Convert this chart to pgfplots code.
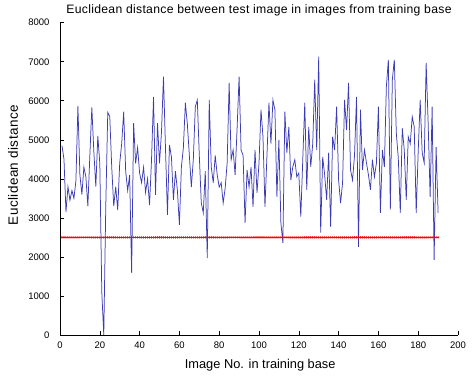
\documentclass[border=0pt]{standalone}
\usepackage{pgfplots}
\usepackage{pgfplotstable}
\pgfplotsset{compat=1.18}
\usepackage{fontspec}
\setmainfont{Liberation Sans}
\definecolor{mblue}{RGB}{60,60,180}
\pgfplotstableread{
x y t
1 4850 2500
2 4500 2500
3 3150 2500
4 3800 2500
5 3450 2500
6 3700 2500
7 3500 2500
8 3950 2500
9 5870 2500
10 4100 2500
11 3600 2500
12 4300 2500
13 4050 2500
14 3300 2500
15 4600 2500
16 5830 2500
17 4700 2500
18 3800 2500
19 5100 2500
20 4400 2500
21 1100 2500
22 0 2500
23 3300 2500
24 5700 2500
25 5600 2500
26 4300 2500
27 3300 2500
28 3800 2500
29 3200 2500
30 4400 2500
31 4900 2500
32 5720 2500
33 4200 2500
34 3700 2500
35 4100 2500
36 1590 2500
37 5430 2500
38 4400 2500
39 4800 2500
40 4150 2500
41 3900 2500
42 4300 2500
43 3650 2500
44 4000 2500
45 3330 2500
46 4500 2500
47 6100 2500
48 3590 2500
49 5430 2500
50 4400 2500
51 5200 2500
52 6620 2500
53 4800 2500
54 3080 2500
55 4870 2500
56 4560 2500
57 3460 2500
58 4200 2500
59 3700 2500
60 2820 2500
61 4300 2500
62 4800 2500
63 5950 2500
64 5400 2500
65 4600 2500
66 3790 2500
67 4500 2500
68 5850 2500
69 6020 2500
70 4600 2500
71 3380 2500
72 3130 2500
73 4200 2500
74 1970 2500
75 6020 2500
76 4310 2500
77 3900 2500
78 4600 2500
79 4100 2500
80 3790 2500
81 3900 2500
82 3380 2500
83 3760 2500
84 4410 2500
85 6460 2500
86 4490 2500
87 4740 2500
88 4100 2500
89 5300 2500
90 6620 2500
91 4740 2500
92 4600 2500
93 2870 2500
94 4230 2500
95 3790 2500
96 4300 2500
97 3280 2500
98 4740 2500
99 3640 2500
100 4400 2500
101 5770 2500
102 5080 2500
103 3280 2500
104 4600 2500
105 5950 2500
106 4900 2500
107 6020 2500
108 5770 2500
109 3540 2500
110 5000 2500
111 2870 2500
112 2360 2500
113 5720 2500
114 4670 2500
115 5330 2500
116 3970 2500
117 4310 2500
118 4490 2500
119 4050 2500
120 4150 2500
121 3030 2500
122 4500 2500
123 5950 2500
124 3720 2500
125 5330 2500
126 4310 2500
127 4900 2500
128 6540 2500
129 4740 2500
130 7130 2500
131 2620 2500
132 4560 2500
133 4100 2500
134 3460 2500
135 4670 2500
136 2770 2500
137 5080 2500
138 4740 2500
139 5850 2500
140 3970 2500
141 3380 2500
142 3900 2500
143 6020 2500
144 5250 2500
145 6460 2500
146 4230 2500
147 3970 2500
148 4600 2500
149 6100 2500
150 2260 2500
151 5770 2500
152 4230 2500
153 4740 2500
154 4410 2500
155 4100 2500
156 3720 2500
157 4490 2500
158 4050 2500
159 4400 2500
160 5850 2500
161 3130 2500
162 4740 2500
163 4310 2500
164 6360 2500
165 7050 2500
166 3210 2500
167 6540 2500
168 7050 2500
169 5170 2500
170 4530 2500
171 3130 2500
172 5300 2500
173 4740 2500
174 3460 2500
175 5080 2500
176 4900 2500
177 5590 2500
178 5330 2500
179 3130 2500
180 4700 2500
181 6020 2500
182 4670 2500
183 4410 2500
184 6970 2500
185 5430 2500
186 3540 2500
187 5850 2500
188 1920 2500
189 4820 2500
190 3130 2500
}\datatable
\begin{document}
\begin{tikzpicture}
\begin{axis}[
  scale only axis, width=398bp, height=312.3bp,
  xmin=0, xmax=200, ymin=0, ymax=8000,
  axis x line=bottom, axis y line=left,
  axis line style={black, line width=0.6bp, -},
  xtick={0,20,...,200}, ytick={0,1000,...,8000},
  tick align=inside, major tick length=4bp,
  tick style={black, line width=0.6bp},
  /pgf/number format/assume math mode=true,
  /pgf/number format/1000 sep={},
  ticklabel style={font=\fontsize{9.5bp}{11bp}\selectfont},
  xticklabel style={yshift=-3bp},
  yticklabel style={xshift=-7bp},
  every axis title shift=0pt,
  title={Euclidean distance between test image in images from training base},
  title style={at={(axis description cs:0.5,1.029)}, anchor=base, yshift=0pt, inner sep=0pt,
    font=\fontsize{12.2bp}{14bp}\selectfont\addfontfeature{LetterSpace=2.5}},
  xlabel={Image No. in training base},
  xlabel style={at={(axis description cs:0.503,-0.096)}, anchor=center, font=\fontsize{12.8bp}{14bp}\selectfont},
  ylabel={Euclidean distance},
  ylabel style={at={(axis description cs:-0.118,0.544)}, anchor=center, font=\fontsize{13.5bp}{15bp}\selectfont\addfontfeature{LetterSpace=3}},
]
\addplot[mblue, line width=0.75bp] table[x=x, y=y] {\datatable};
\addplot[red, line width=0.9bp, mark=*, mark size=0.55bp] table[x=x, y=t] {\datatable};
\end{axis}
\pgfresetboundingbox
\path (current axis.south west) ++(-60bp,-47bp) rectangle ++(474bp,382bp);
\end{tikzpicture}
\end{document}
